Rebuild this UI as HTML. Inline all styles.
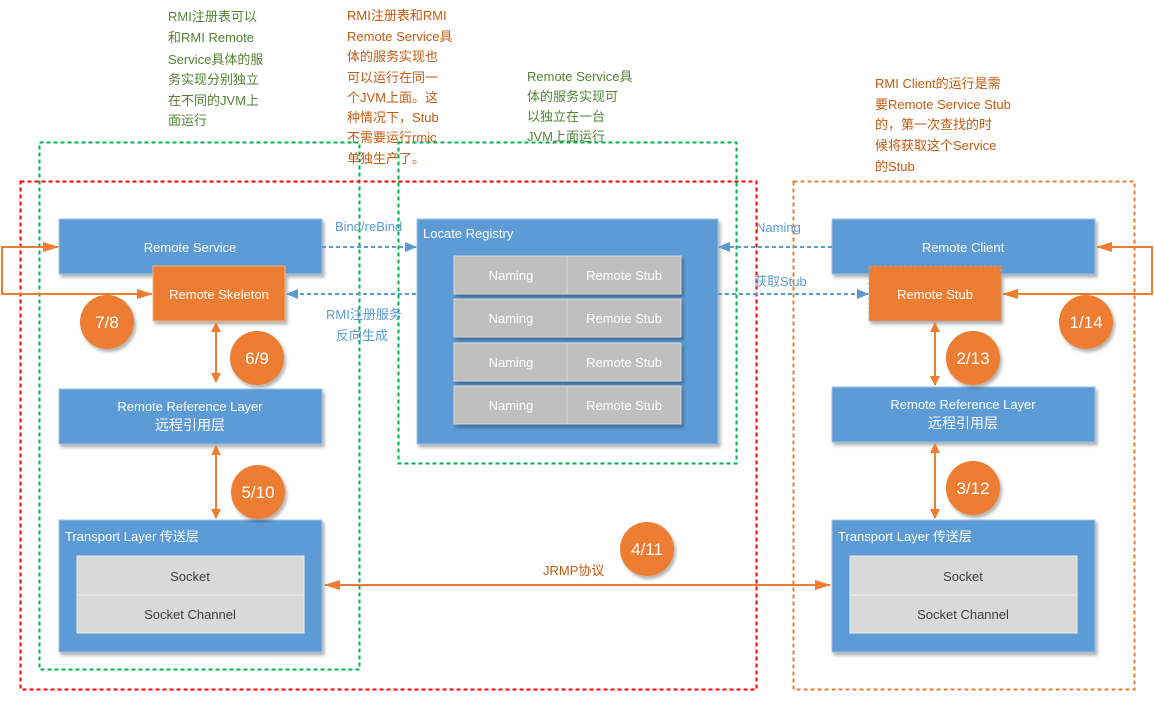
<!DOCTYPE html>
<html><head><meta charset="utf-8"><style>
body{margin:0;background:#fff;width:1154px;height:698px;overflow:hidden}
svg text{font-family:"Liberation Sans","Noto Sans CJK SC",sans-serif}
</style></head><body>
<svg width="1154" height="698" xmlns="http://www.w3.org/2000/svg">
<defs>
<filter id="sh" x="-5%" y="-5%" width="115%" height="120%"><feDropShadow dx="2" dy="3" stdDeviation="1.5" flood-color="#000" flood-opacity="0.3"/></filter>
<marker id="ao" markerWidth="10" markerHeight="10" refX="9" refY="5" orient="auto-start-reverse" markerUnits="userSpaceOnUse"><path d="M0,0 L10,5 L0,10 z" fill="#ed7d31"/></marker>
<marker id="ab" markerWidth="12" markerHeight="10" refX="11" refY="5" orient="auto-start-reverse" markerUnits="userSpaceOnUse"><path d="M0,0 L12,5 L0,10 z" fill="#5b9bd5"/></marker>
<marker id="ao2" markerWidth="16" markerHeight="10" refX="15" refY="5" orient="auto-start-reverse" markerUnits="userSpaceOnUse"><path d="M0,0 L16,5 L0,10 z" fill="#ed7d31"/></marker>
</defs>

<rect x="39.5" y="142.5" width="320" height="527" fill="none" stroke="#00b050" stroke-width="2" stroke-dasharray="4,3"/>
<rect x="398.5" y="142.5" width="338" height="321" fill="none" stroke="#00b050" stroke-width="2" stroke-dasharray="4,3"/>
<rect x="20.5" y="181.5" width="736" height="508" fill="none" stroke="#ff0000" stroke-width="2" stroke-dasharray="4,3"/>
<rect x="793.5" y="181.5" width="341" height="508" fill="none" stroke="#ed7d31" stroke-width="2" stroke-dasharray="4,3"/>

<g font-size="13" fill="#548235">
<text x="168" y="21">RMI注册表可以</text>
<text x="168" y="42">和RMI Remote</text>
<text x="168" y="64">Service具体的服</text>
<text x="168" y="84">务实现分别独立</text>
<text x="168" y="105">在不同的JVM上</text>
<text x="168" y="125">面运行</text>
<text x="527" y="81">Remote Service具</text>
<text x="527" y="101">体的服务实现可</text>
<text x="527" y="121">以独立在一台</text>
<text x="527" y="141">JVM上面运行</text>
</g>
<g font-size="13" fill="#c55a11">
<text x="347" y="20">RMI注册表和RMI</text>
<text x="347" y="41">Remote Service具</text>
<text x="347" y="61">体的服务实现也</text>
<text x="347" y="82">可以运行在同一</text>
<text x="347" y="102">个JVM上面。这</text>
<text x="347" y="122">种情况下，Stub</text>
<text x="347" y="142">不需要运行rmic</text>
<text x="347" y="163">单独生产了。</text>
<text x="875" y="88">RMI Client的运行是需</text>
<text x="875" y="109">要Remote Service Stub</text>
<text x="875" y="129">的，第一次查找的时</text>
<text x="875" y="150">候将获取这个Service</text>
<text x="875" y="171">的Stub</text>
</g>

<g filter="url(#sh)">
<rect x="59" y="219" width="263" height="55" fill="#5b9bd5" stroke="#9dc3e6"/>
<rect x="153" y="266" width="132" height="55" fill="#ed7d31" stroke="#f4b183"/>
<rect x="59" y="389" width="263" height="55" fill="#5b9bd5" stroke="#9dc3e6"/>
<rect x="59" y="520" width="263" height="132" fill="#5b9bd5" stroke="#9dc3e6"/>
<rect x="77" y="556" width="227" height="39" fill="#d9d9d9" stroke="#ececec"/>
<rect x="77" y="595" width="227" height="38" fill="#d9d9d9" stroke="#ececec"/>
<rect x="417" y="219" width="301" height="225" fill="#5b9bd5" stroke="#9dc3e6"/>
<rect x="832" y="219" width="263" height="55" fill="#5b9bd5" stroke="#9dc3e6"/>
<rect x="869" y="266" width="132" height="55" fill="#ed7d31" stroke="#a6a6a6" stroke-dasharray="3,2"/>
<rect x="832" y="387" width="263" height="55" fill="#5b9bd5" stroke="#9dc3e6"/>
<rect x="832" y="520" width="263" height="132" fill="#5b9bd5" stroke="#9dc3e6"/>
<rect x="850" y="556" width="227" height="39" fill="#d9d9d9" stroke="#ececec"/>
<rect x="850" y="595" width="227" height="38" fill="#d9d9d9" stroke="#ececec"/>
</g>
<g filter="url(#sh)" fill="#bfbfbf" stroke="#d9d9d9">
<rect x="454" y="256" width="113" height="38"/><rect x="567" y="256" width="114" height="38"/>
<rect x="454" y="299" width="113" height="38"/><rect x="567" y="299" width="114" height="38"/>
<rect x="454" y="343" width="113" height="38"/><rect x="567" y="343" width="114" height="38"/>
<rect x="454" y="386" width="113" height="38"/><rect x="567" y="386" width="114" height="38"/>
</g>

<g font-size="13" fill="#fff" text-anchor="middle">
<text x="190" y="252">Remote Service</text>
<text x="219" y="299">Remote Skeleton</text>
<text x="190" y="411">Remote Reference Layer</text>
<text x="190" y="430" font-size="14">远程引用层</text>
<text x="963" y="252">Remote Client</text>
<text x="935" y="299">Remote Stub</text>
<text x="963" y="409">Remote Reference Layer</text>
<text x="963" y="428" font-size="14">远程引用层</text>
<g>
<text x="511" y="280">Naming</text><text x="624" y="280">Remote Stub</text>
<text x="511" y="323">Naming</text><text x="624" y="323">Remote Stub</text>
<text x="511" y="367">Naming</text><text x="624" y="367">Remote Stub</text>
<text x="511" y="410">Naming</text><text x="624" y="410">Remote Stub</text>
</g>
</g>
<g font-size="13" fill="#fff">
<text x="423" y="238">Locate Registry</text>
<text x="65" y="541">Transport Layer 传送层</text>
<text x="838" y="541">Transport Layer 传送层</text>
</g>
<g font-size="13" fill="#404040" text-anchor="middle">
<text x="190" y="581">Socket</text><text x="190" y="619">Socket Channel</text>
<text x="963" y="581">Socket</text><text x="963" y="619">Socket Channel</text>
</g>

<g stroke="#5b9bd5" stroke-width="2" stroke-dasharray="4,3" fill="none">
<line x1="322" y1="247" x2="416" y2="247" marker-end="url(#ab)"/>
<line x1="416" y1="294" x2="287" y2="294" marker-end="url(#ab)"/>
<line x1="832" y1="247" x2="719" y2="247" marker-end="url(#ab)"/>
<line x1="718" y1="294" x2="868" y2="294" marker-end="url(#ab)"/>
</g>
<g font-size="13" fill="#5b9bd5">
<text x="335" y="231">Bind/reBind</text>
<text x="326" y="319">RMI注册服务</text>
<text x="336" y="340">反向生成</text>
<text x="756" y="232">Naming</text>
<text x="754" y="286">获取Stub</text>
</g>

<g stroke="#ed7d31" stroke-width="2" fill="none">
<polyline points="58,247 2,247 2,294 152,294" marker-start="url(#ao2)" marker-end="url(#ao2)"/>
<polyline points="1097,247 1152,247 1152,294 1003,294" marker-start="url(#ao2)" marker-end="url(#ao2)"/>
<line x1="216" y1="323" x2="216" y2="382" marker-start="url(#ao)" marker-end="url(#ao)"/>
<line x1="216" y1="446" x2="216" y2="518" marker-start="url(#ao)" marker-end="url(#ao)"/>
<line x1="935" y1="323" x2="935" y2="385" marker-start="url(#ao)" marker-end="url(#ao)"/>
<line x1="935" y1="444" x2="935" y2="518" marker-start="url(#ao)" marker-end="url(#ao)"/>
<line x1="325" y1="585" x2="830" y2="585" marker-start="url(#ao2)" marker-end="url(#ao2)"/>
</g>
<text x="543" y="575" font-size="13" fill="#c55a11">JRMP协议</text>

<g fill="#ed7d31" filter="url(#sh)">
<circle cx="107" cy="322" r="27"/><circle cx="257" cy="358" r="27"/><circle cx="258" cy="492" r="27"/>
<circle cx="647" cy="549" r="27"/><circle cx="1086" cy="322" r="27"/><circle cx="973" cy="358" r="27"/><circle cx="973" cy="488" r="27"/>
</g>
<g font-size="17" fill="#fff" text-anchor="middle">
<text x="107" y="328">7/8</text><text x="257" y="364">6/9</text><text x="258" y="498">5/10</text>
<text x="647" y="555">4/11</text><text x="1086" y="328">1/14</text><text x="973" y="364">2/13</text><text x="973" y="494">3/12</text>
</g>
</svg>
</body></html>
